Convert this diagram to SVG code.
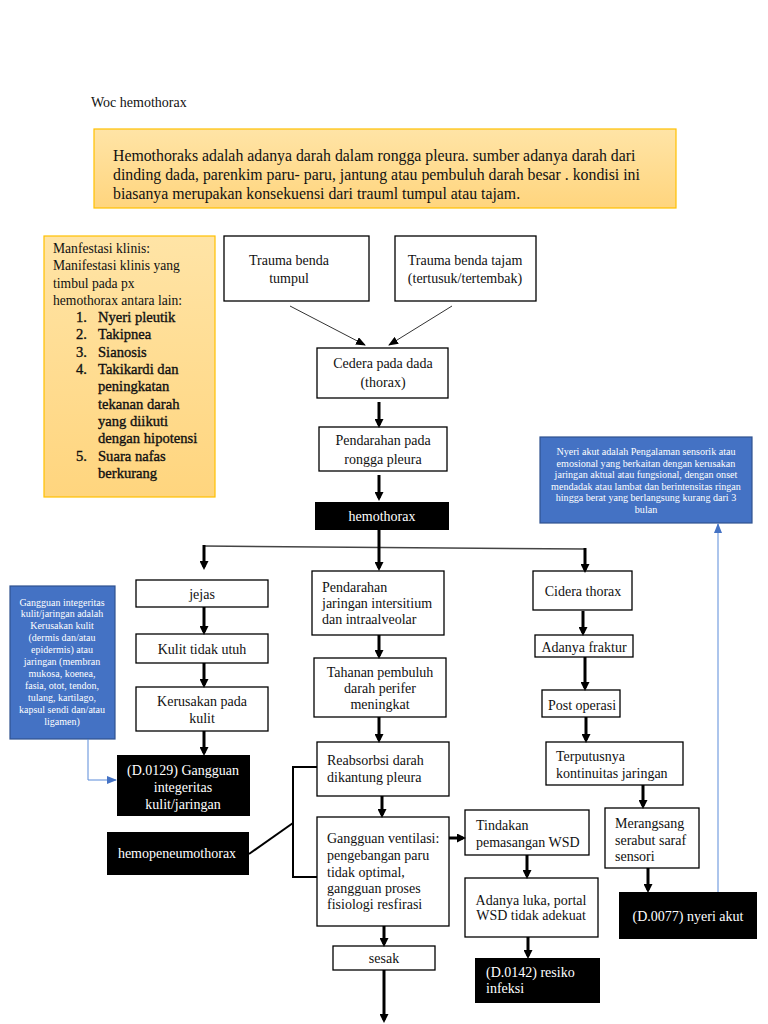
<svg xmlns="http://www.w3.org/2000/svg" width="768" height="1024" viewBox="0 0 768 1024">
<style>
text{font-family:"Liberation Serif","Times New Roman",serif;fill:#111}
.t{font-size:14px}
.c{text-anchor:middle}
.w{fill:#fff}
.box{fill:#fff;stroke:#000;stroke-width:1.3}
.blk{fill:#000}
.blue{fill:#4472C4;stroke:#2F528F;stroke-width:1.2}
.bt{font-size:10px;fill:#fff;text-anchor:middle}
.bt2{font-size:10.1px;fill:#fff;text-anchor:middle}
.thick{stroke:#000;stroke-width:3;fill:none;marker-end:url(#ah)}
.thin{stroke:#333;stroke-width:1;fill:none;marker-end:url(#ahs)}
.bl{stroke:#5B8BD9;stroke-width:1;fill:none}
.hd{font-size:13.6px}
.li{font-size:14.6px;stroke:#111;stroke-width:0.35}
.big{font-size:15.8px}
</style>
<defs>
<linearGradient id="yg" x1="0" y1="0" x2="0" y2="1">
<stop offset="0" stop-color="#FFE4A6"/>
<stop offset="1" stop-color="#FFD57E"/>
</linearGradient>
<marker id="ah" markerWidth="3" markerHeight="3" refX="2" refY="1.5" orient="auto" markerUnits="strokeWidth">
<path d="M0,0 L3,1.5 L0,3 z" fill="#000"/>
</marker>
<marker id="ahs" markerWidth="10" markerHeight="8" refX="9" refY="4" orient="auto" markerUnits="userSpaceOnUse">
<path d="M0,0 L10,4 L0,8 z" fill="#000"/>
</marker>
<marker id="ahb" markerWidth="10" markerHeight="8" refX="9" refY="4" orient="auto" markerUnits="userSpaceOnUse">
<path d="M0,0 L10,4 L0,8 z" fill="#4472C4"/>
</marker>
</defs>
<rect width="768" height="1024" fill="#fff"/>

<text x="91" y="107" class="t">Woc hemothorax</text>

<g id="definisi">
<rect x="94" y="129" width="582" height="79" fill="url(#yg)" stroke="#FFC000" stroke-width="1.2"/>
<text x="113" y="161" class="big">Hemothoraks adalah adanya darah dalam rongga pleura. sumber adanya darah dari</text>
<text x="113" y="180" class="big">dinding dada, parenkim paru- paru, jantung atau pembuluh darah besar . kondisi ini</text>
<text x="113" y="199" class="big">biasanya merupakan konsekuensi dari trauml tumpul atau tajam.</text>
</g>

<g id="manifestasi">
<rect x="44" y="236" width="171" height="261" fill="url(#yg)" stroke="#FFC000" stroke-width="1.2"/>
<text x="53" y="253" class="hd">Manfestasi klinis:</text>
<text x="53" y="270" class="hd">Manifestasi klinis yang</text>
<text x="53" y="288" class="hd">timbul pada px</text>
<text x="53" y="305" class="hd">hemothorax antara lain:</text>
<text x="76" y="322" class="li">1.</text><text x="98" y="322" class="li">Nyeri pleutik</text>
<text x="76" y="339" class="li">2.</text><text x="98" y="339" class="li">Takipnea</text>
<text x="76" y="357" class="li">3.</text><text x="98" y="357" class="li">Sianosis</text>
<text x="76" y="374" class="li">4.</text><text x="98" y="374" class="li">Takikardi dan</text>
<text x="98" y="391" class="li">peningkatan</text>
<text x="98" y="409" class="li">tekanan darah</text>
<text x="98" y="426" class="li">yang diikuti</text>
<text x="98" y="443" class="li">dengan hipotensi</text>
<text x="76" y="461" class="li">5.</text><text x="98" y="461" class="li">Suara nafas</text>
<text x="98" y="478" class="li">berkurang</text>
</g>

<g id="trauma-tumpul">
<rect x="224" y="236" width="145" height="65" class="box"/>
<text x="289" y="265" class="t c">Trauma benda</text>
<text x="289" y="283" class="t c">tumpul</text>
</g>
<g id="trauma-tajam">
<rect x="395" y="236" width="141" height="65" class="box"/>
<text x="465" y="265" class="t c">Trauma benda tajam</text>
<text x="465" y="283" class="t c">(tertusuk/tertembak)</text>
</g>
<g id="cedera-dada">
<rect x="317" y="348" width="131" height="50" class="box"/>
<text x="383" y="368" class="t c">Cedera pada dada</text>
<text x="383" y="387" class="t c">(thorax)</text>
</g>
<g id="pendarahan-pleura">
<rect x="319" y="427" width="128" height="44" class="box"/>
<text x="383" y="445" class="t c">Pendarahan pada</text>
<text x="383" y="464" class="t c">rongga pleura</text>
</g>
<g id="hemothorax">
<rect x="315" y="502" width="134" height="28" class="blk"/>
<text x="382" y="521" class="t c w">hemothorax</text>
</g>

<g id="jejas">
<rect x="136" y="580" width="132" height="27" class="box"/>
<text x="202" y="599" class="t c">jejas</text>
</g>
<g id="kulit-tidak-utuh">
<rect x="136" y="634" width="132" height="29" class="box"/>
<text x="202" y="654" class="t c">Kulit tidak utuh</text>
</g>
<g id="kerusakan-kulit">
<rect x="136" y="687" width="132" height="44" class="box"/>
<text x="202" y="706" class="t c">Kerusakan pada</text>
<text x="202" y="723" class="t c">kulit</text>
</g>
<g id="d0129">
<rect x="117" y="755" width="133" height="61" class="blk"/>
<text x="183" y="775" class="t c w">(D.0129) Gangguan</text>
<text x="183" y="792" class="t c w">integeritas</text>
<text x="183" y="809" class="t c w">kulit/jaringan</text>
</g>
<g id="def-integritas">
<rect x="10" y="586" width="105" height="153" class="blue"/>
<text x="62" y="606" class="bt">Gangguan integeritas</text>
<text x="62" y="617" class="bt">kulit/jaringan adalah</text>
<text x="62" y="629" class="bt">Kerusakan kulit</text>
<text x="62" y="641" class="bt">(dermis dan/atau</text>
<text x="62" y="653" class="bt">epidermis) atau</text>
<text x="62" y="665" class="bt">jaringan (membran</text>
<text x="62" y="677" class="bt">mukosa, koenea,</text>
<text x="62" y="689" class="bt">fasia, otot, tendon,</text>
<text x="62" y="701" class="bt">tulang, kartilago,</text>
<text x="62" y="713" class="bt">kapsul sendi dan/atau</text>
<text x="62" y="725" class="bt">ligamen)</text>
</g>

<g id="pendarahan-jaringan">
<rect x="312" y="571" width="132" height="64" class="box"/>
<text x="322" y="592" class="t">Pendarahan</text>
<text x="322" y="608" class="t">jaringan intersitium</text>
<text x="322" y="624" class="t">dan intraalveolar</text>
</g>
<g id="tahanan">
<rect x="314" y="658" width="132" height="59" class="box"/>
<text x="380" y="677" class="t c">Tahanan pembuluh</text>
<text x="380" y="693" class="t c">darah perifer</text>
<text x="380" y="709" class="t c">meningkat</text>
</g>
<g id="reabsorbsi">
<rect x="317" y="742" width="132" height="54" class="box"/>
<text x="327" y="765" class="t">Reabsorbsi darah</text>
<text x="327" y="782" class="t">dikantung pleura</text>
</g>
<g id="gangguan-ventilasi">
<rect x="317" y="817" width="132" height="109" class="box"/>
<text x="327" y="843" class="t">Gangguan ventilasi:</text>
<text x="327" y="860" class="t">pengebangan paru</text>
<text x="327" y="877" class="t">tidak optimal,</text>
<text x="327" y="893" class="t">gangguan proses</text>
<text x="327" y="909" class="t">fisiologi resfirasi</text>
</g>
<g id="sesak">
<rect x="333" y="946" width="102" height="24" class="box"/>
<text x="384" y="963" class="t c">sesak</text>
</g>
<g id="hemopeneumothorax">
<rect x="107" y="832" width="142" height="43" class="blk"/>
<text x="177" y="858" class="t c w">hemopeneumothorax</text>
</g>
<g id="tindakan-wsd">
<rect x="465" y="810" width="124" height="45" class="box"/>
<text x="476" y="830" class="t">Tindakan</text>
<text x="476" y="847" class="t">pemasangan WSD</text>
</g>
<g id="adanya-luka">
<rect x="465" y="878" width="133" height="59" class="box"/>
<text x="531" y="905" class="t c">Adanya luka, portal</text>
<text x="531" y="920" class="t c">WSD tidak adekuat</text>
</g>
<g id="d0142">
<rect x="475" y="958" width="125" height="45" class="blk"/>
<text x="486" y="977" class="t w">(D.0142) resiko</text>
<text x="486" y="993" class="t w">infeksi</text>
</g>

<g id="cidera-thorax">
<rect x="533" y="571" width="99" height="39" class="box"/>
<text x="583" y="596" class="t c">Cidera thorax</text>
</g>
<g id="adanya-fraktur">
<rect x="535" y="635" width="98" height="22" class="box"/>
<text x="584" y="652" class="t c">Adanya fraktur</text>
</g>
<g id="post-operasi">
<rect x="542" y="690" width="78" height="27" class="box"/>
<text x="582" y="710" class="t c">Post operasi</text>
</g>
<g id="terputusnya">
<rect x="546" y="742" width="137" height="43" class="box"/>
<text x="556" y="761" class="t">Terputusnya</text>
<text x="556" y="778" class="t">kontinuitas jaringan</text>
</g>
<g id="merangsang">
<rect x="605" y="808" width="94" height="60" class="box"/>
<text x="615" y="828" class="t">Merangsang</text>
<text x="615" y="845" class="t">serabut saraf</text>
<text x="615" y="861" class="t">sensori</text>
</g>
<g id="d0077">
<rect x="619" y="892" width="138" height="47" class="blk"/>
<text x="688" y="921" class="t c w">(D.0077) nyeri akut</text>
</g>
<g id="def-nyeri">
<rect x="540" y="437" width="212" height="86" class="blue"/>
<text x="646" y="455" class="bt2">Nyeri akut adalah Pengalaman sensorik atau</text>
<text x="646" y="467" class="bt2">emosional yang berkaitan dengan kerusakan</text>
<text x="646" y="478" class="bt2">jaringan aktual atau fungsional, dengan onset</text>
<text x="646" y="490" class="bt2">mendadak atau lambat dan berintensitas ringan</text>
<text x="646" y="501" class="bt2">hingga berat yang berlangsung kurang dari 3</text>
<text x="646" y="513" class="bt2">bulan</text>
</g>

<g id="connectors">
<path d="M290,306 L365,345" class="thin"/>
<path d="M452,306 L389,345" class="thin"/>
<path d="M379,402 V425" class="thick"/>
<path d="M379,475 V498" class="thick"/>
<path d="M203,546 L585,549" stroke="#444" stroke-width="1.5" fill="none"/>
<path d="M204,545 V567" class="thick"/>
<path d="M379,530 V568" class="thick"/>
<path d="M585,548 V570" class="thick"/>
<path d="M204,607 V632" class="thick"/>
<path d="M204,663 V685" class="thick"/>
<path d="M204,731 V753" class="thick"/>
<path d="M379,635 V656" class="thick"/>
<path d="M379,717 V740" class="thick"/>
<path d="M382,796 V815" class="thick"/>
<path d="M384,926 V944" class="thick"/>
<path d="M384,970 V1020" class="thick"/>
<path d="M317,767 H293 V877 H317" stroke="#000" stroke-width="2" fill="none"/>
<path d="M249,854 L293,823" stroke="#000" stroke-width="2" fill="none"/>
<path d="M449,838 H463" class="thick"/>
<path d="M527,855 V876" class="thick"/>
<path d="M528,937 V956" class="thick"/>
<path d="M583,611 V633" class="thick"/>
<path d="M585,657 V688" class="thick"/>
<path d="M586,717 V740" class="thick"/>
<path d="M643,785 V806" class="thick"/>
<path d="M648,868 V890" class="thick"/>
<path d="M88,739 V780 H116" class="bl" marker-end="url(#ahb)"/>
<path d="M718,892 V524" class="bl" marker-end="url(#ahb)"/>
</g>
</svg>
